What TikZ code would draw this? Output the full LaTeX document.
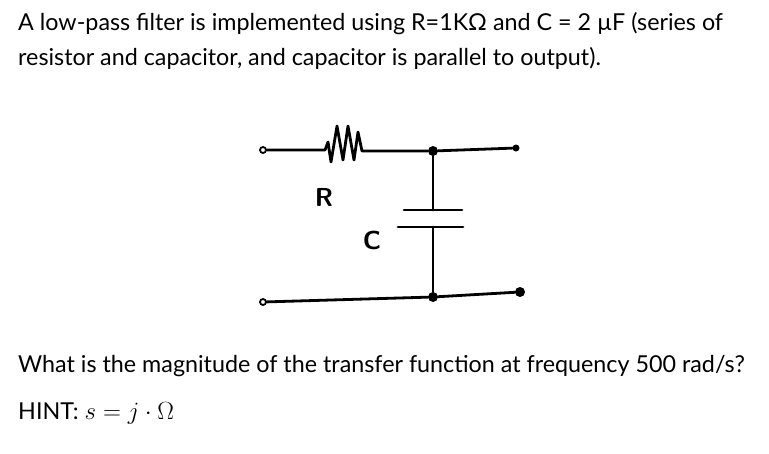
\documentclass[tikz,border=0pt]{standalone}
\usepackage{fontspec}
\setmainfont{Lato}
\begin{document}
\begin{tikzpicture}[x=1pt,y=-1pt,
  wire/.style={line width=2.8pt,line cap=round,line join=round},
  txt/.style={anchor=base west,inner sep=0pt,font=\fontsize{23.3}{28}\selectfont},
  term/.style={circle,draw,fill=white,line width=1.8pt,inner sep=0pt,minimum size=6pt},
  dot/.style={circle,fill,inner sep=0pt,minimum size=10pt},
  hand/.style={font=\fontsize{26}{30}\selectfont\sffamily\bfseries}]
\useasboundingbox (0,0) rectangle (769,453);
\node[txt] (t1) at (18,30) {A low-pass filter is implemented using R=1KΩ and C = 2 µF (series of};
\node[txt] (t2) at (18,65) {resistor and capacitor, and capacitor is parallel to output).};
\node[txt] (t3) at (18,372) {What is the magnitude of the transfer function at frequency 500 rad/s?};
\node[txt] (t4) at (18,419) {HINT: $s = j \cdot \Omega$};
\node[term] (a) at (263,150) {};
\node[term] (b) at (263,302) {};
\node[dot,minimum size=7pt] (c) at (516,148) {};
\node[dot] (d) at (520,292) {};
\node[dot] (j1) at (433,151) {};
\node[dot] (j2) at (433,297) {};
\coordinate (r1) at (325,150);
\coordinate (r2) at (362,151);
\coordinate (p1) at (433,210);
\coordinate (p2) at (433,227);
\draw[wire] (a) -- (r1) -- (328,142) -- (331,162) -- (337,126) -- (343,160) -- (348,126) -- (354,160) -- (358,132) -- (r2) -- (j1) -- (c);
\draw[wire] (j1) -- (p1);
\draw[wire] (404,210) -- (462,210);
\draw[wire] (398,227) -- (463,227);
\draw[wire] (p2) -- (j2);
\draw[wire] (b) -- (j2) -- (d);
\node[hand] (R) at (324,197) {R};
\node[hand] (C) at (372,240) {C};
\end{tikzpicture}
\end{document}
